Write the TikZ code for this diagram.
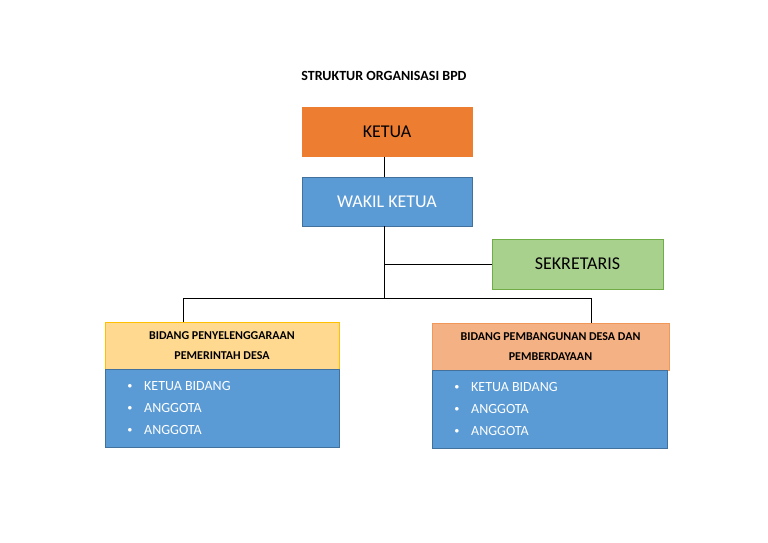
\documentclass[tikz,border=0pt]{standalone}
\usepackage{fontspec}
\setmainfont{Carlito}
\definecolor{org}{HTML}{ED7D31}
\definecolor{blu}{HTML}{5B9BD5}
\definecolor{blub}{HTML}{41719C}
\definecolor{grn}{HTML}{A9D18E}
\definecolor{grnb}{HTML}{70AD47}
\definecolor{yel}{HTML}{FFD98F}
\definecolor{yelb}{HTML}{FFC000}
\definecolor{sal}{HTML}{F4B183}
\begin{document}
\begin{tikzpicture}[x=1pt,y=-1pt,
  box/.style={draw,minimum width=170pt,minimum height=49pt,font=\fontsize{18}{20}\selectfont,inner sep=0pt},
  hdr/.style={draw,line width=0.8pt,minimum height=47pt,align=center,font=\bfseries\fontsize{12}{20}\selectfont,inner sep=0pt},
  lst/.style={draw=blub,fill=blu,minimum height=78pt,inner sep=0pt},
  itm/.style={anchor=west,text=white,font=\fontsize{14}{16}\selectfont,inner sep=0pt},
  ln/.style={line width=0.9pt}]
\useasboundingbox (0,0) rectangle (768,543);
\node[font=\bfseries\fontsize{14}{16}\selectfont] (title) at (384,76) {STRUKTUR ORGANISASI BPD};
\node[box,fill=org,draw=org] (k) at (387,132) {KETUA};
\node[box,fill=blu,draw=blub,text=white] (w) at (387,201.5) {WAKIL KETUA};
\node[box,fill=grn,draw=grnb,minimum width=171pt,minimum height=50pt] (s) at (577.5,264) {SEKRETARIS};
\node[hdr,fill=yel,draw=yelb,minimum width=234pt] (lh) at (222,345.5) {BIDANG PENYELENGGARAAN\\PEMERINTAH DESA};
\node[lst,minimum width=234pt] (ll) at (222,408) {};
\node[hdr,fill=sal,draw=org!80,minimum width=237pt] (rh) at (550.5,346.5) {BIDANG PEMBANGUNAN DESA DAN\\PEMBERDAYAAN};
\node[lst,minimum width=235pt] (rl) at (549.5,409) {};
\foreach \n/\x/\y in {a/130/386,b/130/408,c/130/430}{
  \node[text=white,font=\small] (lb\n) at (\x,\y) {$\bullet$};}
\node[itm] (l1) at (144,386) {KETUA BIDANG};
\node[itm] (l2) at (144,408) {ANGGOTA};
\node[itm] (l3) at (144,430) {ANGGOTA};
\foreach \n/\x/\y in {a/457/387,b/457/409,c/457/431}{
  \node[text=white,font=\small] (rb\n) at (\x,\y) {$\bullet$};}
\node[itm] (r1) at (471,387) {KETUA BIDANG};
\node[itm] (r2) at (471,409) {ANGGOTA};
\node[itm] (r3) at (471,431) {ANGGOTA};
\coordinate (j) at (384,298);
\coordinate (js) at (384,264);
\draw[ln] (384,156.5) -- (384,176.5);
\draw[ln] (384,226) -- (j);
\draw[ln] (js) -- (s.west);
\draw[ln] (183,322) -- (183,298) -- (591,298) -- (591,323);
\end{tikzpicture}
\end{document}
